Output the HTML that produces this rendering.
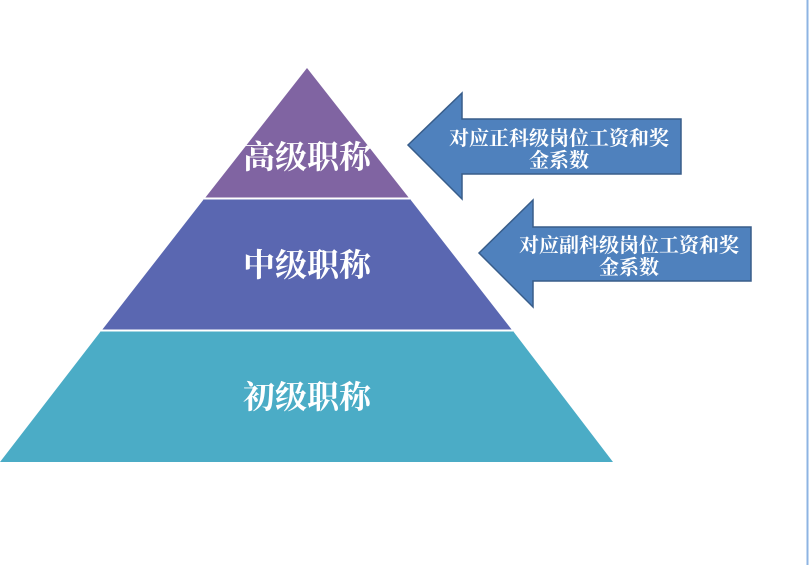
<!DOCTYPE html>
<html><head><meta charset="utf-8"><style>
body{margin:0;width:809px;height:565px;background:#fff;overflow:hidden}
</style></head><body>
<svg width="809" height="565" xmlns="http://www.w3.org/2000/svg" style="position:absolute;left:0;top:0">
<line x1="807.5" y1="0" x2="807.5" y2="565" stroke="#8eb4e3" stroke-width="2"/>
<polygon points="307,68 409,198 205,198" fill="#8064a2"/>
<polygon points="204,199 410,199 512,330 102,330" fill="#5a67b1"/>
<polygon points="101,331 513,331 613,462 0,462" fill="#4bacc6"/>
<line x1="204" y1="198.5" x2="410" y2="198.5" stroke="#fff" stroke-width="2"/>
<line x1="101" y1="330.5" x2="513" y2="330.5" stroke="#fff" stroke-width="2"/>
<g font-family="Liberation Serif, Noto Serif CJK SC, serif" fill="#fff" font-size="32" font-weight="bold" text-anchor="middle">
<text x="307" y="168">高级职称</text>
<text x="307" y="276">中级职称</text>
<text x="307" y="408">初级职称</text>
</g>
<polygon points="408,145 462,93 462,119 681,119 681,174 462,174 462,199" fill="#4f81bd" stroke="#385d8a" stroke-width="1.5"/>
<polygon points="479,253 533,200 533,227 751,227 751,281 533,281 533,307" fill="#4f81bd" stroke="#385d8a" stroke-width="1.5"/>
<g font-family="Liberation Serif, Noto Serif CJK SC, serif" fill="#fff" font-size="20" font-weight="bold" text-anchor="middle">
<text x="559" y="145">对应正科级岗位工资和奖</text>
<text x="559" y="167">金系数</text>
<text x="629" y="252">对应副科级岗位工资和奖</text>
<text x="629" y="274">金系数</text>
</g>
</svg>
</body></html>
